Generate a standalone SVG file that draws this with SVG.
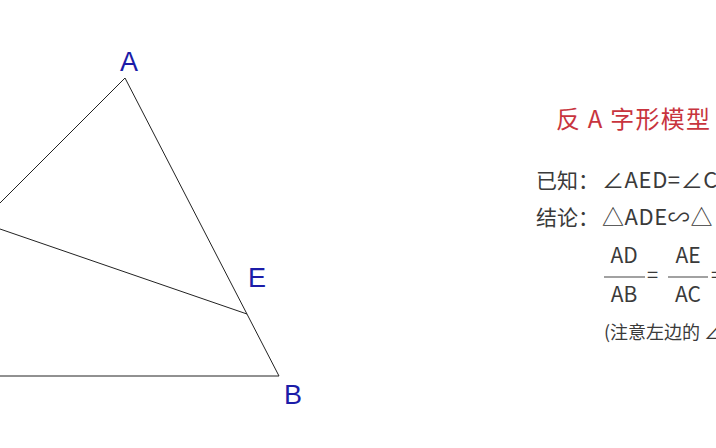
<svg xmlns="http://www.w3.org/2000/svg" width="716" height="448" viewBox="0 0 716 448">
<style>
.seg{stroke:#222;stroke-width:1;fill:none}
.lbl{font-family:"Liberation Sans",Arial,sans-serif;font-size:27px;fill:#1c1ca8}
.t{font-family:"Noto Sans CJK SC","Liberation Sans",sans-serif;fill:#3a3a3a}
</style>
<rect width="716" height="448" fill="#ffffff"/>
<g id="connectors">
<line class="seg" x1="125" y1="78" x2="0" y2="203"/>
<line class="seg" x1="125" y1="78" x2="279" y2="376"/>
<line class="seg" x1="0" y1="229" x2="247" y2="314"/>
<line class="seg" x1="0" y1="376" x2="279" y2="376" stroke-width="1.4"/>
</g>
<g id="A"><text class="lbl" x="120" y="71">A</text></g>
<g id="E"><text class="lbl" x="248" y="287">E</text></g>
<g id="B"><text class="lbl" x="284" y="404">B</text></g>
<g id="panel">
<text x="556" y="128" font-family="Noto Sans CJK SC,Liberation Sans,sans-serif" font-size="24" fill="#c8343e" textLength="154" lengthAdjust="spacing">反 A 字形模型</text>
<text class="t" x="536" y="188" font-size="21">已知：</text>
<text class="t" x="602" y="188" font-size="22" letter-spacing="0.6">∠AED=∠C</text>
<text class="t" x="536" y="225" font-size="21">结论：</text>
<text class="t" x="602" y="225" font-size="22" letter-spacing="0.6">△ADE∽△</text>
<text class="t" x="624" y="263" font-size="21" text-anchor="middle">AD</text>
<line x1="604" y1="277" x2="645" y2="277" stroke="#444" stroke-width="1.2"/>
<text class="t" x="624" y="302" font-size="21" text-anchor="middle">AB</text>
<text class="t" x="647" y="282" font-size="20">=</text>
<text class="t" x="688" y="263" font-size="21" text-anchor="middle">AE</text>
<line x1="668" y1="277" x2="708" y2="277" stroke="#444" stroke-width="1.2"/>
<text class="t" x="688" y="302" font-size="21" text-anchor="middle">AC</text>
<text class="t" x="711" y="282" font-size="20">=</text>
<text class="t" x="604" y="339" font-size="18">(注意左边的 ∠</text>
</g>
</svg>
